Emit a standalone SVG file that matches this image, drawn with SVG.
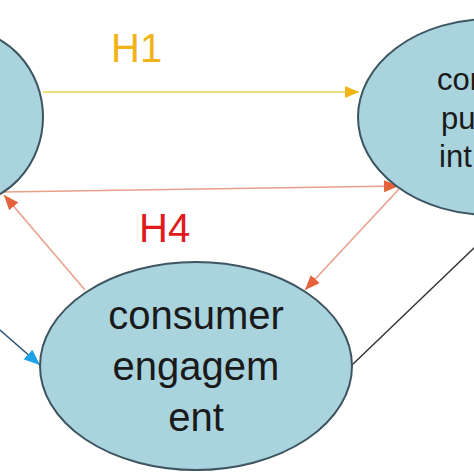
<svg xmlns="http://www.w3.org/2000/svg" width="474" height="474" viewBox="0 0 474 474">
<defs>
<style>
.node{fill:#a9d3dd;stroke:#3d5560;stroke-width:2}
.t{font-family:"Liberation Sans",Arial,sans-serif;fill:#1a1a1a}
.lbl{font-family:"Liberation Sans",Arial,sans-serif;font-size:40px}
.orange{stroke:#e9a08c;stroke-width:1.6;fill:none}
</style>
<marker id="mY" markerUnits="userSpaceOnUse" viewBox="0 0 14 12" refX="14" refY="6" markerWidth="14" markerHeight="12" orient="auto"><path d="M0,0 L14,6 L0,12 z" fill="#f0b41a"/></marker>
<marker id="mO" markerUnits="userSpaceOnUse" viewBox="0 0 15 12" refX="15" refY="6" markerWidth="15" markerHeight="12" orient="auto"><path d="M0,0 L15,6 L0,12 z" fill="#e5623a"/></marker>
<marker id="mB" markerUnits="userSpaceOnUse" viewBox="0 0 16 13" refX="16" refY="6.5" markerWidth="16" markerHeight="13" orient="auto"><path d="M0,0 L16,6.5 L0,13 z" fill="#1ca2e6"/></marker>
</defs>
<rect width="474" height="474" fill="#ffffff"/>
<g id="connectors">
<line x1="43" y1="92" x2="359" y2="92" stroke="#e9d24a" stroke-width="1.6" marker-end="url(#mY)"/>
<line x1="3" y1="192" x2="399" y2="186" class="orange" marker-end="url(#mO)"/>
<line x1="85" y1="290" x2="4" y2="195" class="orange" marker-end="url(#mO)"/>
<line x1="399" y1="189" x2="305" y2="290" class="orange" marker-end="url(#mO)"/>
<line x1="0" y1="330" x2="40" y2="365" stroke="#2d5472" stroke-width="1.6" marker-end="url(#mB)"/>
<line x1="352" y1="365" x2="476" y2="246" stroke="#333333" stroke-width="1.4"/>
</g>
<g id="node-left">
<ellipse class="node" cx="-40" cy="117" rx="83" ry="88"/>
</g>
<g id="node-right">
<ellipse class="node" cx="490" cy="117" rx="132" ry="98"/>
<text class="t" font-size="31" x="437" y="90">con</text>
<text class="t" font-size="31" x="441" y="129">pu</text>
<text class="t" font-size="31" x="439" y="167">int</text>
</g>
<g id="node-bottom">
<ellipse class="node" cx="196" cy="366" rx="156" ry="104"/>
<text class="t" font-size="40" text-anchor="middle" x="196" y="329">consumer</text>
<text class="t" font-size="40" text-anchor="middle" x="196" y="380">engagem</text>
<text class="t" font-size="40" text-anchor="middle" x="196" y="431">ent</text>
</g>
<g id="labels">
<text class="lbl" x="111" y="62" fill="#f0b41a">H1</text>
<text class="lbl" x="139" y="242" fill="#e01b1b">H4</text>
</g>
</svg>
